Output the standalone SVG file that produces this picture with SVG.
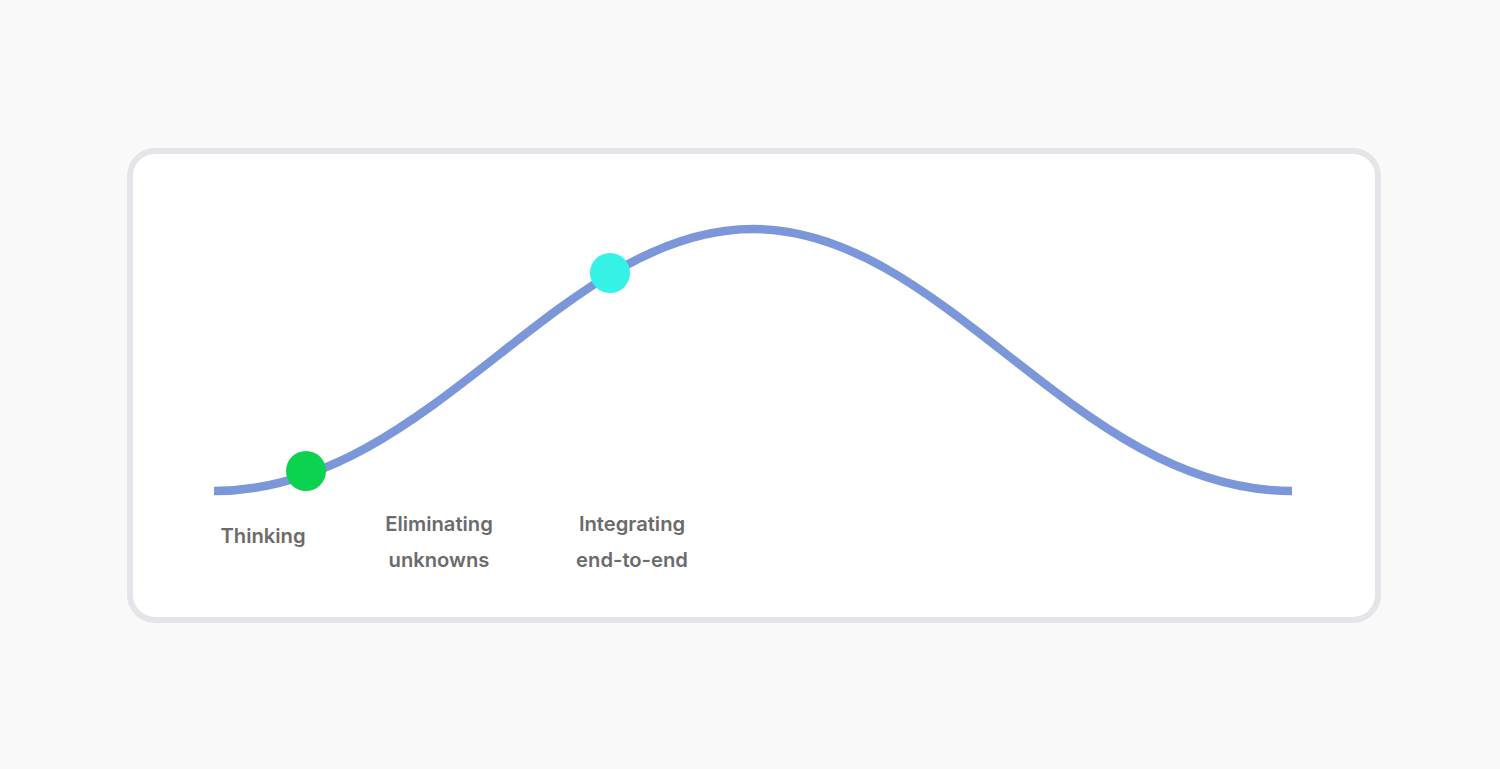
<svg xmlns="http://www.w3.org/2000/svg" width="1500" height="769" viewBox="0 0 1500 769">
<style>
.lbl{font-family:Inter,"Liberation Sans",sans-serif;font-weight:600;font-size:20.2px;fill:#6b6b6b;text-anchor:middle}
</style>
<rect x="0" y="0" width="1500" height="769" fill="#f9f9f9"/>
<rect x="130" y="151" width="1248" height="469" rx="25" fill="#ffffff" stroke="#e4e4e9" stroke-width="6"/>
<g id="connectors">
<path d="M214,491 C430,491 560,229 753,229 C946,229 1076,491 1292,491" fill="none" stroke="#7b97d9" stroke-width="8.5"/>
</g>
<g id="thinking">
<circle cx="306" cy="471" r="20" fill="#0bd24f"/>
<text class="lbl" x="263" y="543">Thinking</text>
</g>
<g id="eliminating">
<text class="lbl" x="439" y="531">Eliminating</text>
<text class="lbl" x="439" y="567">unknowns</text>
</g>
<g id="integrating">
<circle cx="610" cy="273" r="20" fill="#36f1e5"/>
<text class="lbl" x="632" y="531">Integrating</text>
<text class="lbl" x="632" y="567">end-to-end</text>
</g>
</svg>
